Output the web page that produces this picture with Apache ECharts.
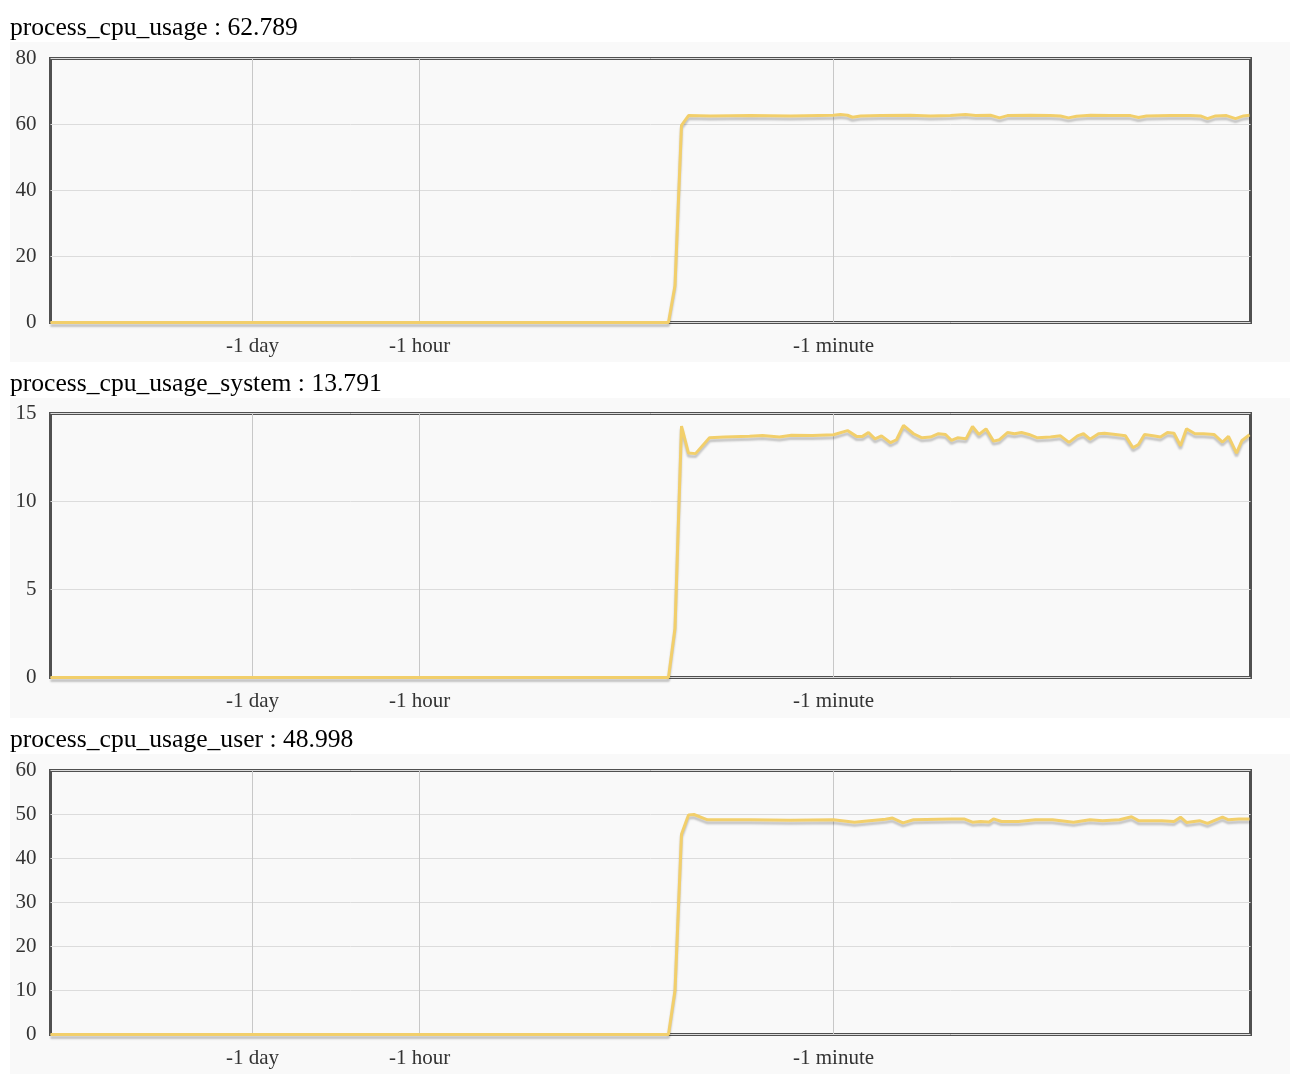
<!DOCTYPE html>
<html>
<head>
<meta charset="utf-8">
<script src="https://cdn.jsdelivr.net/npm/echarts@6/dist/echarts.min.js"></script>
<style>
html,body{margin:0;padding:0;background:#fff;}
#chart{width:1298px;height:1086px;}
</style>
</head>
<body>
<div id="chart"></div>
<script>
// ---- data (x = timeline position, 0..1200) ----
const xTickValues = [202, 369, 783];
const xTickLabels = ['-1 day', '-1 hour', '-1 minute'];

const titles = ['process_cpu_usage : 62.789', 'process_cpu_usage_system : 13.791', 'process_cpu_usage_user : 48.998'];

const usageX = [0, 618, 624.5, 631, 638, 660, 700, 740, 783, 790, 797, 802, 810, 830, 860, 880, 900, 915, 925, 940, 949, 957, 980, 1000, 1010, 1018, 1026, 1040, 1060, 1080, 1088, 1096, 1120, 1140, 1150, 1157, 1165, 1176, 1185, 1193, 1199];
const usageY = [0, 0, 11.2, 59.7, 62.7, 62.6, 62.7, 62.6, 62.8, 63.0, 62.8, 62.2, 62.6, 62.7, 62.8, 62.6, 62.7, 63.0, 62.7, 62.8, 62.0, 62.7, 62.8, 62.7, 62.6, 62.0, 62.5, 62.8, 62.7, 62.7, 62.1, 62.6, 62.7, 62.7, 62.6, 61.8, 62.6, 62.7, 61.8, 62.6, 62.79];

const systemX = [0, 618, 624.5, 631, 638, 645, 659, 674, 699, 712, 729, 741, 762, 783, 797, 806, 812, 818, 824.5, 831, 840, 846, 853, 863, 871.5, 880, 888, 895, 901, 907, 915.5, 922, 928.5, 935.5, 943, 949, 957, 964, 971, 978.5, 987, 1000, 1010, 1018.5, 1027, 1033, 1039.5, 1048, 1054, 1065, 1075, 1082.5, 1088, 1094, 1102.5, 1110, 1117, 1123.5, 1130, 1136, 1144.5, 1153, 1163.5, 1172, 1178, 1186, 1191.5, 1199];
const systemY = [0, 0, 2.8, 14.28, 12.75, 12.72, 13.62, 13.66, 13.71, 13.75, 13.66, 13.77, 13.75, 13.79, 14.03, 13.7, 13.7, 13.92, 13.56, 13.73, 13.34, 13.51, 14.32, 13.85, 13.62, 13.66, 13.85, 13.81, 13.47, 13.62, 13.56, 14.26, 13.81, 14.13, 13.43, 13.51, 13.92, 13.85, 13.92, 13.81, 13.62, 13.66, 13.73, 13.36, 13.73, 13.85, 13.54, 13.85, 13.88, 13.81, 13.73, 13.05, 13.24, 13.81, 13.73, 13.66, 13.92, 13.88, 13.17, 14.13, 13.85, 13.85, 13.81, 13.38, 13.7, 12.75, 13.47, 13.79];

const userX = [0, 618, 624.5, 631, 638, 643.5, 657, 700, 740, 783, 804, 819, 835, 842, 852.5, 863, 901, 913.5, 922, 930, 938.5, 943, 951, 968, 985, 1002, 1023, 1039.5, 1052, 1069, 1081, 1088, 1111, 1123.5, 1130, 1136, 1149, 1157, 1172, 1178, 1188.5, 1199];
const userY = [0, 0, 10, 45.5, 49.9, 50.0, 48.8, 48.8, 48.7, 48.8, 48.25, 48.6, 48.9, 49.2, 48.1, 48.8, 49.0, 49.0, 48.25, 48.4, 48.3, 49.0, 48.4, 48.4, 48.8, 48.8, 48.25, 48.8, 48.6, 48.8, 49.5, 48.6, 48.6, 48.4, 49.4, 48.2, 48.6, 48.0, 49.4, 48.8, 49.0, 49.0];

const yMax = [80, 15, 60];
const yInterval = [20, 5, 10];

// ---- chart ----
const FONT = "'Liberation Serif','Times New Roman',serif";
const panelTops = [42, 398, 754];
const gridTops = [58.5, 413.5, 770.5];
const gridH = 264;

const seriesX = [usageX, systemX, userX];
const seriesY = [usageY, systemY, userY];

const chart = echarts.init(document.getElementById('chart'), null, {renderer: 'canvas'});

const option = {
  animation: false,
  backgroundColor: '#fff',
  graphic: panelTops.map(t => ({
    type: 'rect', z: -10, silent: true,
    shape: {x: 10, y: t, width: 1280, height: 320},
    style: {fill: '#f9f9f9'}
  })),
  title: titles.map((txt, i) => ({
    text: txt, left: 5, top: panelTops[i] - 32,
    textStyle: {fontFamily: FONT, fontSize: 25.6, fontWeight: 'normal', color: '#000'}
  })),
  grid: gridTops.map(t => ({
    left: 50.5, top: t, width: 1200, height: gridH,
    show: true, borderColor: '#505050', borderWidth: 3, backgroundColor: 'transparent'
  })),
  xAxis: [0, 1, 2].map(i => ({
    type: 'value', gridIndex: i, min: 0, max: 1200,
    axisLine: {show: false},
    axisTick: {show: false, customValues: xTickValues},
    axisLabel: {
      customValues: xTickValues,
      formatter: v => { const k = xTickValues.indexOf(v); return k >= 0 ? xTickLabels[k] : ''; },
      fontFamily: FONT, fontSize: 21, color: '#333', margin: 13
    },
    splitLine: {show: true, customValues: xTickValues, lineStyle: {color: '#c8c8c8', width: 1}}
  })),
  yAxis: [0, 1, 2].map(i => ({
    type: 'value', gridIndex: i, min: 0, max: yMax[i], interval: yInterval[i],
    axisLine: {show: false},
    axisTick: {show: false},
    axisLabel: {fontFamily: FONT, fontSize: 21, color: '#333', margin: 14},
    splitLine: {show: true, lineStyle: {color: '#dcdcdc', width: 1}}
  })),
  series: [0, 1, 2].map(i => ({
    type: 'line', xAxisIndex: i, yAxisIndex: i,
    data: seriesX[i].map((x, j) => [x, seriesY[i][j]]),
    symbol: 'none', showSymbol: false, clip: false,
    lineStyle: {color: '#f2cf6b', width: 3, shadowColor: 'rgba(0,0,0,0.22)', shadowBlur: 2, shadowOffsetY: 3},
    z: 5
  }))
};
chart.setOption(option);
</script>
</body>
</html>
